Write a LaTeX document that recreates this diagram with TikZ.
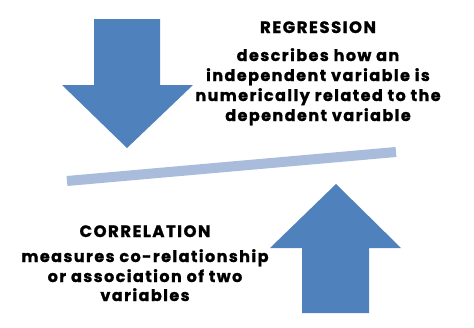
\documentclass[tikz,border=0pt]{standalone}
\usepackage{fontspec}
\newfontfamily\heavyfont{Poppins}[UprightFont={* Bold}, FakeBold=1.2, LetterSpace=9]
\definecolor{arrowblue}{HTML}{4F81BD}
\definecolor{barblue}{HTML}{A9BCDB}
\begin{document}
\begin{tikzpicture}[x=1pt,y=-1pt,
  arrowshape/.style={fill=arrowblue,draw=none},
  title/.style={font=\heavyfont\fontsize{16.5}{20}\selectfont,anchor=base,inner sep=0},
  body/.style={font=\heavyfont\fontsize{16}{20}\selectfont,anchor=base,inner sep=0}]
\useasboundingbox (0,0) rectangle (474,327);
\fill[white] (0,0) rectangle (474,327);
% down arrow
\fill[arrowshape] (94,19) -- (160,19) -- (160,85) -- (193,85) -- (127,148) -- (62,85) -- (94,85) -- cycle;
% up arrow
\fill[arrowshape] (336,184) -- (401,248) -- (369,248) -- (369,313) -- (302,313) -- (302,248) -- (270,248) -- cycle;
% bar
\coordinate (b1) at (67,181);
\coordinate (b2) at (396,152);
\draw[barblue,line width=10pt] (b1) -- (b2);
\node[title] (reg) at (318,33) {REGRESSION};
\node[body] (r1) at (318,61) {describes how an};
\node[body] (r2) at (318,81) {independent variable is};
\node[body] (r3) at (318,101) {numerically related to the};
\node[body] (r4) at (318,121) {dependent variable};
\node[title] (cor) at (145,237) {CORRELATION};
\node[body] (c1) at (145,262) {measures co-relationship};
\node[body] (c2) at (145,282) {or association of two};
\node[body] (c3) at (145,301) {variables};
\end{tikzpicture}
\end{document}
